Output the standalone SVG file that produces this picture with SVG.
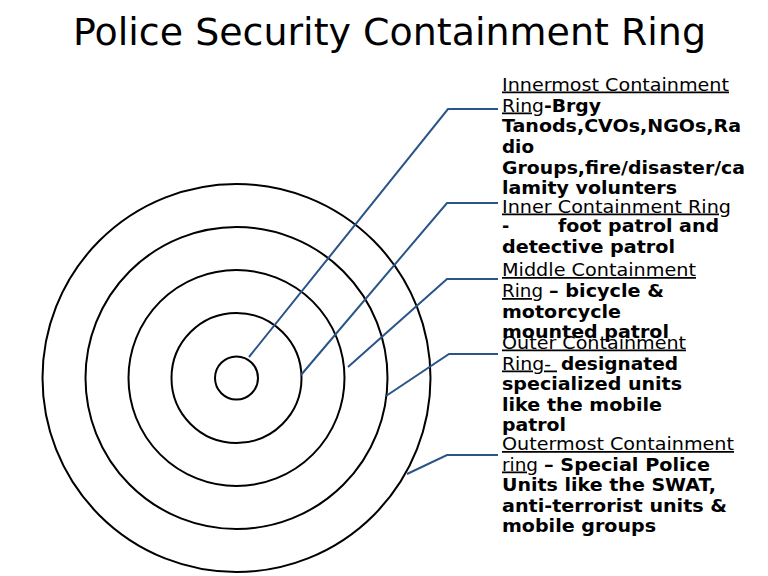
<svg xmlns="http://www.w3.org/2000/svg" width="768" height="576" viewBox="0 0 768 576">
<style>
.title{font-family:"DejaVu Sans",sans-serif;font-size:37px;fill:#000}
.lbl{font-family:"DejaVu Sans",sans-serif;font-size:17.5px;fill:#000}
.u{text-decoration:underline}
.b{font-weight:bold}
.ring{fill:none;stroke:#000;stroke-width:2}
.con{fill:none;stroke:#2B5587;stroke-width:2}
</style>
<rect width="768" height="576" fill="#fff"/>
<text class="title" x="73" y="45" textLength="633" lengthAdjust="spacingAndGlyphs">Police Security Containment Ring</text>
<g id="rings">
<circle class="ring" cx="236.5" cy="378" r="21.5"/>
<circle class="ring" cx="236.5" cy="378" r="65"/>
<circle class="ring" cx="236.5" cy="378" r="108"/>
<circle class="ring" cx="236.5" cy="378" r="151"/>
<circle class="ring" cx="236.5" cy="378" r="194"/>
</g>
<g id="connectors">
<polyline class="con" points="249,357 448,109 498,109"/>
<polyline class="con" points="301,375 447,203 498,203"/>
<polyline class="con" points="348,367 447,279 498,279"/>
<polyline class="con" points="386,396 449,354 498,354"/>
<polyline class="con" points="407,474 447,455 498,455"/>
</g>
<g id="innermost">
<text class="lbl u" x="502" y="90.5" textLength="227" lengthAdjust="spacingAndGlyphs">Innermost Containment</text>
<text class="lbl u" x="502" y="111.5" textLength="42" lengthAdjust="spacingAndGlyphs">Ring</text>
<text class="lbl b" x="544" y="111.5" textLength="57" lengthAdjust="spacingAndGlyphs">-Brgy</text>
<text class="lbl b" x="502" y="132" textLength="239" lengthAdjust="spacingAndGlyphs">Tanods,CVOs,NGOs,Ra</text>
<text class="lbl b" x="502" y="153" textLength="32" lengthAdjust="spacingAndGlyphs">dio</text>
<text class="lbl b" x="502" y="174" textLength="243" lengthAdjust="spacingAndGlyphs">Groups,fire/disaster/ca</text>
<text class="lbl b" x="502" y="194" textLength="175" lengthAdjust="spacingAndGlyphs">lamity volunters</text>
</g>
<g id="inner">
<text class="lbl u" x="502" y="212.5" textLength="229" lengthAdjust="spacingAndGlyphs">Inner Containment Ring</text>
<text class="lbl b" x="502" y="232">-</text>
<text class="lbl b" x="558" y="232" textLength="161" lengthAdjust="spacingAndGlyphs">foot patrol and</text>
<text class="lbl b" x="502" y="252.5" textLength="173" lengthAdjust="spacingAndGlyphs">detective patrol</text>
</g>
<g id="middle">
<text class="lbl u" x="502" y="276" textLength="194" lengthAdjust="spacingAndGlyphs">Middle Containment</text>
<text class="lbl u" x="502" y="297" textLength="41" lengthAdjust="spacingAndGlyphs">Ring</text>
<text class="lbl b" x="549" y="297" textLength="115" lengthAdjust="spacingAndGlyphs">– bicycle &amp;</text>
<text class="lbl b" x="502" y="317.5" textLength="119" lengthAdjust="spacingAndGlyphs">motorcycle</text>
<text class="lbl b" x="502" y="338" textLength="167" lengthAdjust="spacingAndGlyphs">mounted patrol</text>
</g>
<g id="outer">
<text class="lbl u" x="502" y="348.5" textLength="184" lengthAdjust="spacingAndGlyphs">Outer Containment</text>
<text class="lbl u" x="502" y="369.5" textLength="55" lengthAdjust="spacingAndGlyphs" xml:space="preserve">Ring- </text>
<text class="lbl b" x="561" y="369.5" textLength="117" lengthAdjust="spacingAndGlyphs">designated</text>
<text class="lbl b" x="502" y="390" textLength="180" lengthAdjust="spacingAndGlyphs">specialized units</text>
<text class="lbl b" x="502" y="410.5" textLength="160" lengthAdjust="spacingAndGlyphs">like the mobile</text>
<text class="lbl b" x="502" y="430.5" textLength="64" lengthAdjust="spacingAndGlyphs">patrol</text>
</g>
<g id="outermost">
<text class="lbl u" x="502" y="450" textLength="232" lengthAdjust="spacingAndGlyphs">Outermost Containment</text>
<text class="lbl u" x="502" y="470.5" textLength="36" lengthAdjust="spacingAndGlyphs">ring</text>
<text class="lbl b" x="544" y="470.5" textLength="166" lengthAdjust="spacingAndGlyphs">– Special Police</text>
<text class="lbl b" x="502" y="491" textLength="214" lengthAdjust="spacingAndGlyphs">Units like the SWAT,</text>
<text class="lbl b" x="502" y="511.5" textLength="225" lengthAdjust="spacingAndGlyphs">anti-terrorist units &amp;</text>
<text class="lbl b" x="502" y="532" textLength="154" lengthAdjust="spacingAndGlyphs">mobile groups</text>
</g>
</svg>
